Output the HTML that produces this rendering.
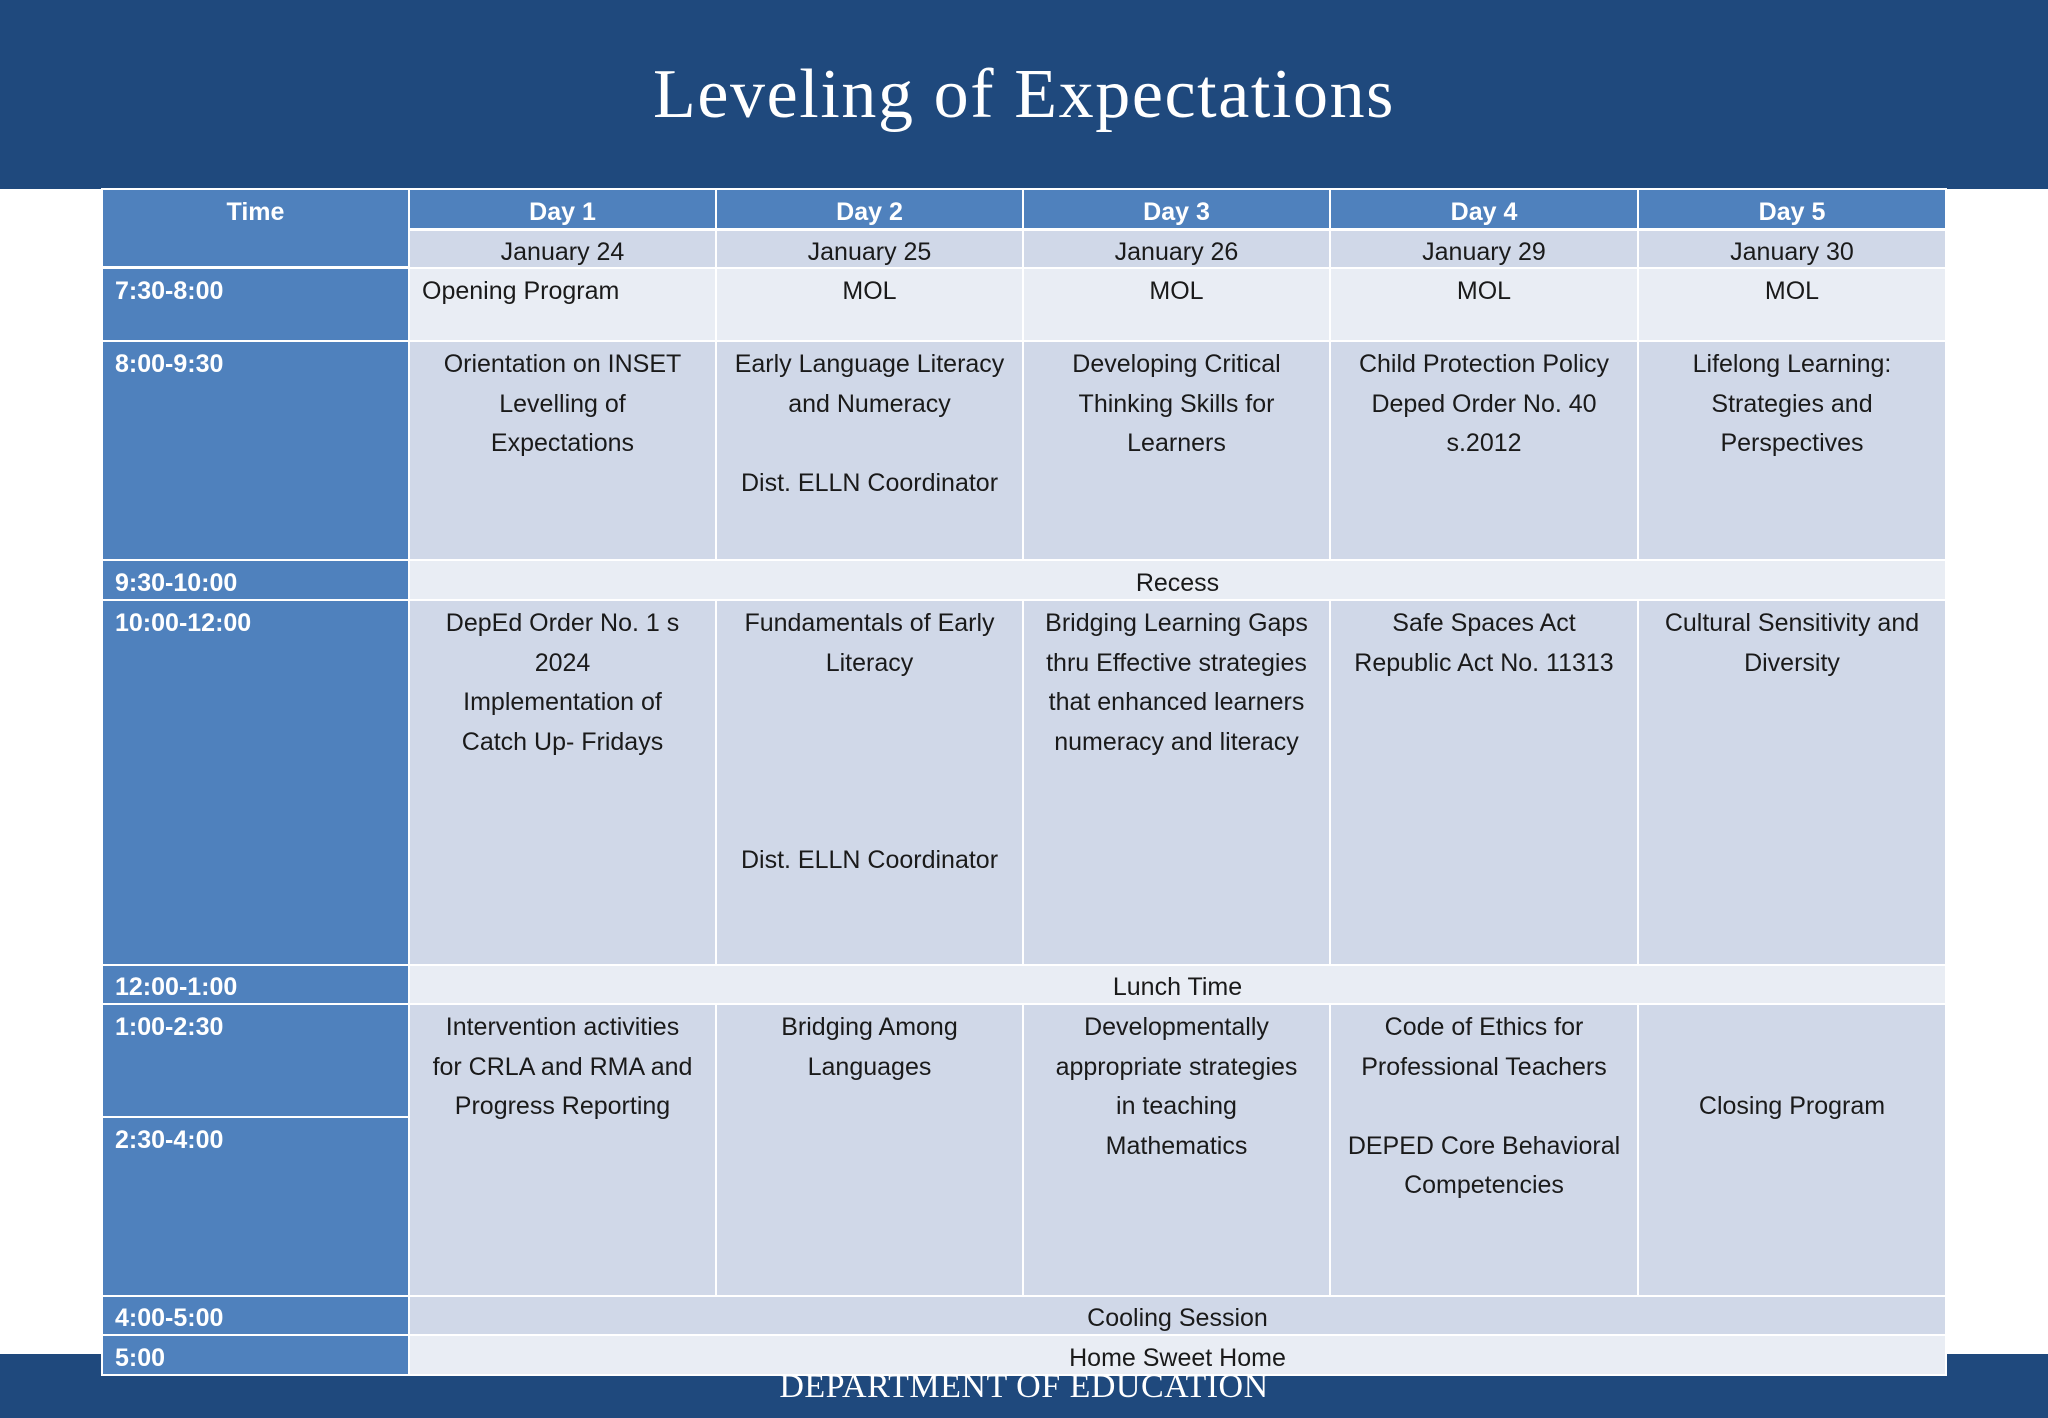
<!DOCTYPE html>
<html><head><meta charset="utf-8"><style>
body{margin:0;width:2048px;height:1418px;position:relative;background:#fff;overflow:hidden;font-family:"Liberation Sans",sans-serif}
.c{position:absolute;box-sizing:border-box;font-size:25px;line-height:39.5px;color:#1a1a1a;text-align:center;padding-top:3px}
.h{background:#4f81bd;color:#fff;font-weight:bold}
.t{background:#4f81bd;color:#fff;font-weight:bold;text-align:left;padding-left:12px}
.a{background:#d0d8e8}.b{background:#e9edf4}
</style></head><body>
<div style="position:absolute;left:0;top:0;width:2048px;height:189px;background:#1f497d"></div>
<div style="position:absolute;left:0;top:55px;width:2048px;text-align:center;color:#fff;font-family:'Liberation Serif',serif;font-size:70px;letter-spacing:1.6px;line-height:80px">Leveling of Expectations</div>
<div style="position:absolute;left:0;top:1354px;width:2048px;height:64px;background:#1f497d"></div>
<div style="position:absolute;left:0;top:1367px;width:2048px;text-align:center;color:#fff;font-family:'Liberation Serif',serif;font-size:34px;letter-spacing:0.5px;line-height:40px">DEPARTMENT OF EDUCATION</div>

<div style="position:absolute;left:101px;top:188px;width:1846px;height:1188px;background:#fff"></div>
<div class="c h" style="left:103px;top:190px;width:305px;height:76px">Time</div>
<div class="c h" style="left:410px;top:190px;width:305px;height:38px">Day 1</div>
<div class="c h" style="left:717px;top:190px;width:305px;height:38px">Day 2</div>
<div class="c h" style="left:1024px;top:190px;width:305px;height:38px">Day 3</div>
<div class="c h" style="left:1331px;top:190px;width:306px;height:38px">Day 4</div>
<div class="c h" style="left:1639px;top:190px;width:306px;height:38px">Day 5</div>
<div class="c a" style="left:410px;top:231px;width:305px;height:36px;line-height:36px">January 24</div>
<div class="c a" style="left:717px;top:231px;width:305px;height:36px;line-height:36px">January 25</div>
<div class="c a" style="left:1024px;top:231px;width:305px;height:36px;line-height:36px">January 26</div>
<div class="c a" style="left:1331px;top:231px;width:306px;height:36px;line-height:36px">January 29</div>
<div class="c a" style="left:1639px;top:231px;width:306px;height:36px;line-height:36px">January 30</div>

<div class="c t" style="left:103px;top:269px;width:305px;height:71px">7:30-8:00</div>
<div class="c b" style="left:410px;top:269px;width:305px;height:71px;text-align:left;padding-left:12px">Opening Program</div>
<div class="c b" style="left:717px;top:269px;width:305px;height:71px">MOL</div>
<div class="c b" style="left:1024px;top:269px;width:305px;height:71px">MOL</div>
<div class="c b" style="left:1331px;top:269px;width:306px;height:71px">MOL</div>
<div class="c b" style="left:1639px;top:269px;width:306px;height:71px">MOL</div>

<div class="c t" style="left:103px;top:342px;width:305px;height:217px">8:00-9:30</div>
<div class="c a" style="left:410px;top:342px;width:305px;height:217px">Orientation on INSET<br>Levelling of<br>Expectations</div>
<div class="c a" style="left:717px;top:342px;width:305px;height:217px">Early Language Literacy<br>and Numeracy<br><br>Dist. ELLN Coordinator</div>
<div class="c a" style="left:1024px;top:342px;width:305px;height:217px">Developing Critical<br>Thinking Skills for<br>Learners</div>
<div class="c a" style="left:1331px;top:342px;width:306px;height:217px">Child Protection Policy<br>Deped Order No. 40<br>s.2012</div>
<div class="c a" style="left:1639px;top:342px;width:306px;height:217px">Lifelong Learning:<br>Strategies and<br>Perspectives</div>

<div class="c t" style="left:103px;top:561px;width:305px;height:38px;line-height:38px">9:30-10:00</div>
<div class="c b" style="left:410px;top:561px;width:1535px;height:38px;line-height:38px">Recess</div>

<div class="c t" style="left:103px;top:601px;width:305px;height:363px">10:00-12:00</div>
<div class="c a" style="left:410px;top:601px;width:305px;height:363px">DepEd Order No. 1 s<br>2024<br>Implementation of<br>Catch Up- Fridays</div>
<div class="c a" style="left:717px;top:601px;width:305px;height:363px">Fundamentals of Early<br>Literacy<br><br><br><br><br>Dist. ELLN Coordinator</div>
<div class="c a" style="left:1024px;top:601px;width:305px;height:363px">Bridging Learning Gaps<br>thru Effective strategies<br>that enhanced learners<br>numeracy and literacy</div>
<div class="c a" style="left:1331px;top:601px;width:306px;height:363px">Safe Spaces Act<br>Republic Act No. 11313</div>
<div class="c a" style="left:1639px;top:601px;width:306px;height:363px">Cultural Sensitivity and<br>Diversity</div>

<div class="c t" style="left:103px;top:966px;width:305px;height:37px;line-height:37px">12:00-1:00</div>
<div class="c b" style="left:410px;top:966px;width:1535px;height:37px;line-height:37px">Lunch Time</div>

<div class="c t" style="left:103px;top:1005px;width:305px;height:111px">1:00-2:30</div>
<div class="c t" style="left:103px;top:1118px;width:305px;height:177px">2:30-4:00</div>
<div class="c a" style="left:410px;top:1005px;width:305px;height:290px">Intervention activities<br>for CRLA and RMA and<br>Progress Reporting</div>
<div class="c a" style="left:717px;top:1005px;width:305px;height:290px">Bridging Among<br>Languages</div>
<div class="c a" style="left:1024px;top:1005px;width:305px;height:290px">Developmentally<br>appropriate strategies<br>in teaching<br>Mathematics</div>
<div class="c a" style="left:1331px;top:1005px;width:306px;height:290px">Code of Ethics for<br>Professional Teachers<br><br>DEPED Core Behavioral<br>Competencies</div>
<div class="c a" style="left:1639px;top:1005px;width:306px;height:290px;padding-top:82px">Closing Program</div>

<div class="c t" style="left:103px;top:1297px;width:305px;height:37px;line-height:37px">4:00-5:00</div>
<div class="c a" style="left:410px;top:1297px;width:1535px;height:37px;line-height:37px">Cooling Session</div>
<div class="c t" style="left:103px;top:1336px;width:305px;height:38px;line-height:38px">5:00</div>
<div class="c b" style="left:410px;top:1336px;width:1535px;height:38px;line-height:38px">Home Sweet Home</div>
</body></html>
